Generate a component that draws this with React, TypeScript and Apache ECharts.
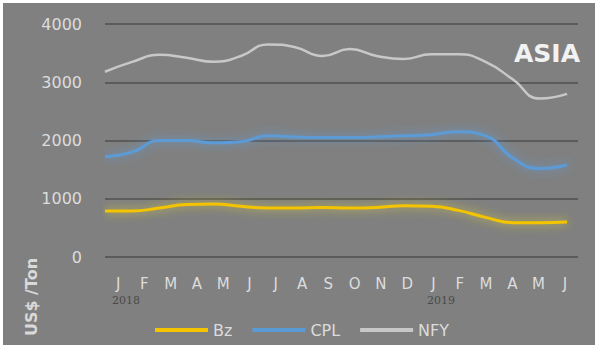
import React, { useEffect, useRef } from "react";
import * as echarts from "echarts";

const months = ["J", "F", "M", "A", "M", "J", "J", "A", "S", "O", "N", "D", "J", "F", "M", "A", "M", "J"];
const yearLabels = ["2018", "2019"];
const bz = [790, 790, 840, 900, 910, 870, 840, 840, 850, 840, 850, 880, 870, 800, 680, 590, 590, 600];
const cpl = [1720, 1800, 2000, 2000, 1960, 1980, 2080, 2060, 2050, 2050, 2060, 2080, 2100, 2150, 2080, 1700, 1520, 1580];
const nfy = [3180, 3350, 3470, 3420, 3350, 3450, 3650, 3600, 3450, 3570, 3450, 3400, 3480, 3480, 3350, 3050, 2720, 2800];

const toXY = (arr: number[]) => arr.map((v, i) => [i, v]);

export default function App() {
  const ref = useRef<HTMLDivElement>(null);
  useEffect(() => {
    const chart = echarts.init(ref.current!, null, { renderer: "svg" });
    const font = "DejaVu Sans";
    chart.setOption({
      animation: false,
      backgroundColor: "#ffffff",
      textStyle: { fontFamily: font },
      graphic: [
        { type: "rect", z: -10, shape: { x: 3, y: 3, width: 592, height: 342 }, style: { fill: "#808080" } },
        { type: "text", x: 580, y: 53, style: { text: "ASIA", fill: "#f2f2f2", font: "bold 25px 'DejaVu Sans'", textAlign: "right", textVerticalAlign: "middle" } },
        { type: "text", x: 126, y: 300, style: { text: yearLabels[0], fill: "#4a4a4a", font: "11px 'DejaVu Serif'", textAlign: "center", textVerticalAlign: "middle" } },
        { type: "text", x: 441, y: 300, style: { text: yearLabels[1], fill: "#4a4a4a", font: "11px 'DejaVu Serif'", textAlign: "center", textVerticalAlign: "middle" } },
        { type: "text", x: 31, y: 297, rotation: Math.PI / 2, style: { text: "US$ /Ton", fill: "#d9d9d9", font: "bold 16px 'DejaVu Sans'", textAlign: "center", textVerticalAlign: "middle" } },
      ],
      grid: { left: 105, right: 22, top: 24, bottom: 93 },
      legend: {
        left: 150,
        top: 317,
        icon: "rect",
        itemWidth: 53,
        itemHeight: 4,
        itemGap: 20,
        textStyle: { color: "#dcdcdc", fontSize: 16, fontFamily: font },
        data: ["Bz", "CPL", "NFY"],
      },
      xAxis: [
        {
          type: "category",
          data: months,
          boundaryGap: true,
          axisLine: { show: false },
          axisTick: { show: false },
          axisLabel: { color: "#dcdcdc", fontSize: 15, margin: 19, interval: 0 },
        },
        { type: "value", min: 0, max: 17.4, show: false },
      ],
      yAxis: {
        type: "value",
        min: 0,
        max: 4000,
        interval: 1000,
        axisLine: { show: false },
        axisTick: { show: false },
        axisLabel: { color: "#dcdcdc", fontSize: 16, margin: 23, formatter: (v: number) => String(v) },
        splitLine: { lineStyle: { color: "#4f4f4f", width: 1.5 } },
      },
      series: [
        {
          name: "Bz",
          type: "line",
          xAxisIndex: 1,
          smooth: 0.5,
          symbol: "none",
          data: toXY(bz),
          itemStyle: { color: "#f5c400" },
          lineStyle: { color: "#f5c400", width: 3, shadowColor: "rgba(230,220,40,0.8)", shadowBlur: 10 },
        },
        {
          name: "CPL",
          type: "line",
          xAxisIndex: 1,
          smooth: 0.5,
          symbol: "none",
          data: toXY(cpl),
          itemStyle: { color: "#5b9bd5" },
          lineStyle: { color: "#5b9bd5", width: 3, shadowColor: "rgba(90,160,230,0.8)", shadowBlur: 10 },
        },
        {
          name: "NFY",
          type: "line",
          xAxisIndex: 1,
          smooth: 0.5,
          symbol: "none",
          data: toXY(nfy),
          itemStyle: { color: "#c8c8c8" },
          lineStyle: { color: "#c8c8c8", width: 2.5 },
        },
      ],
    });
    return () => chart.dispose();
  }, []);
  return <div ref={ref} style={{ position: "absolute", left: 0, top: 0, width: 600, height: 350 }} />;
}
